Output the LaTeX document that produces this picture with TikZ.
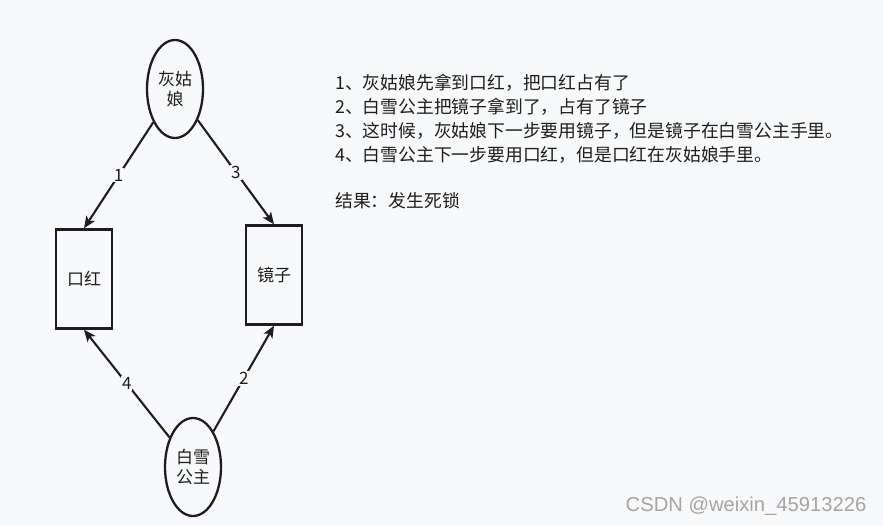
\documentclass[tikz,border=0pt]{standalone}
\usepackage{fontspec}
\setmainfont{Noto Sans CJK SC}
\newfontfamily\wmfont{Liberation Sans}
\usetikzlibrary{shapes.geometric,arrows.meta}
\definecolor{bg}{RGB}{248,249,250}
\definecolor{ink}{RGB}{30,30,32}
\definecolor{txt}{RGB}{30,30,30}
\definecolor{wm}{RGB}{165,165,165}
\begin{document}
\begin{tikzpicture}[x=1pt,y=-1pt,
  person/.style={ellipse,draw=ink,line width=2.3pt,minimum width=56pt,minimum height=98pt,inner sep=0pt,align=center,text=txt,font=\fontsize{17}{20}\selectfont},
  res/.style={rectangle,draw=ink,line width=2.3pt,minimum width=56pt,minimum height=99pt,inner sep=0pt,text=txt,font=\fontsize{17}{20}\selectfont},
  link/.style={draw=ink,line width=2.1pt,-{Stealth[length=12pt,width=10pt,inset=3pt]}},
  lbl/.style={fill=bg,inner sep=1pt,text=txt,font=\fontsize{17}{20}\selectfont},
  line/.style={anchor=west,inner sep=0pt,text=txt,font=\fontsize{17.8}{22}\selectfont}]
\fill[bg] (0,0) rectangle (883,525);
\useasboundingbox (0,0) rectangle (883,525);

\node[person] (hgn) at (175,89) {灰姑\\娘};
\node[person] (bx) at (193,467) {白雪\\公主};
\node[res] (kh) at (84,279) {口红};
\node[res] (jz) at (274,275) {镜子};

\draw[link] (hgn) -- node[lbl] {1} (kh.north);
\draw[link] (hgn) -- node[lbl] {3} (jz.north);
\draw[link] (bx) -- node[lbl] {4} (kh.south);
\draw[link] (bx) -- node[lbl] {2} (jz.south);

\node[line] (l1) at (335,83) {1、灰姑娘先拿到口红，把口红占有了};
\node[line] (l2) at (335,107) {2、白雪公主把镜子拿到了，占有了镜子};
\node[line] (l3) at (335,131) {3、这时候，灰姑娘下一步要用镜子，但是镜子在白雪公主手里。};
\node[line] (l4) at (335,155) {4、白雪公主下一步要用口红，但是口红在灰姑娘手里。};
\node[line] (l5) at (335,201) {结果：发生死锁};

\node[text=wm,inner sep=0pt,font=\wmfont\fontsize{20.2}{24}\selectfont] (wmk) at (746,506) {CSDN @weixin\_45913226};
\end{tikzpicture}
\end{document}
